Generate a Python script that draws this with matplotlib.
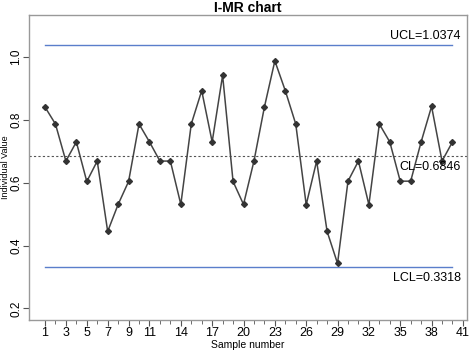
import numpy as np
import matplotlib.pyplot as plt

plt.rcParams['font.family'] = ['Liberation Sans', 'DejaVu Sans']

samples = np.arange(1, 41)
values = [0.841, 0.787, 0.669, 0.730, 0.604, 0.669, 0.445, 0.531, 0.604, 0.787,
          0.730, 0.669, 0.669, 0.531, 0.787, 0.893, 0.730, 0.942, 0.604, 0.531,
          0.669, 0.841, 0.988, 0.893, 0.787, 0.530, 0.669, 0.445, 0.343, 0.605,
          0.669, 0.530, 0.787, 0.730, 0.605, 0.605, 0.730, 0.843, 0.669, 0.730]
ucl = 1.0374
cl = 0.6846
lcl = 0.3318
xtick_labels = [1, 3, 5, 7, 9, 11, 14, 17, 20, 23, 26, 29, 32, 35, 38, 41]
yticks = [0.2, 0.4, 0.6, 0.8, 1.0]

fig = plt.figure(figsize=(4.74, 3.55), dpi=100)
ax = fig.add_axes([0.0612, 0.0986, 0.9238, 0.8591])

blue = '#5a7ecb'
ax.plot([1, 40], [ucl, ucl], color=blue, lw=1.0)
ax.plot([1, 40], [lcl, lcl], color=blue, lw=1.0)
ax.axhline(cl, color='#555555', lw=0.8, ls=(0, (2, 2)))
ax.plot(samples, values, color='#444444', lw=1.1, marker='D', ms=3,
        mfc='#333333', mec='#333333')

ax.text(40.8, ucl + 0.012, 'UCL=1.0374', ha='right', va='bottom', fontsize=9)
ax.text(40.8, cl - 0.015, 'CL=0.6846', ha='right', va='top', fontsize=9)
ax.text(40.8, lcl - 0.015, 'LCL=0.3318', ha='right', va='top', fontsize=9)

ax.set_xlim(-0.53, 41.38)
ax.set_ylim(0.163, 1.134)

ax.set_xticks(np.arange(1, 42), minor=True)
ax.set_xticks(xtick_labels)
ax.set_xticklabels([str(t) for t in xtick_labels], fontsize=9)
ax.set_yticks(yticks)
ax.set_yticklabels(['0.2', '0.4', '0.6', '0.8', '1.0'], fontsize=8.5,
                   rotation=90, va='center')
ax.tick_params(axis='both', which='both', direction='out', color='#555555')
ax.tick_params(axis='x', which='major', length=4, pad=1)
ax.tick_params(axis='x', which='minor', length=3)
ax.tick_params(axis='y', length=4, pad=1)

for s in ax.spines.values():
    s.set_color('#999999')
    s.set_linewidth(1.0)

ax.set_title('I-MR chart', fontsize=10, fontweight='bold', pad=2)
ax.set_xlabel('Sample number', fontsize=7.5, labelpad=1)
ax.set_ylabel('Individual Value', fontsize=6.5)
ax.yaxis.set_label_coords(-0.044, 0.5)

fig.savefig('out.png', dpi=100)
